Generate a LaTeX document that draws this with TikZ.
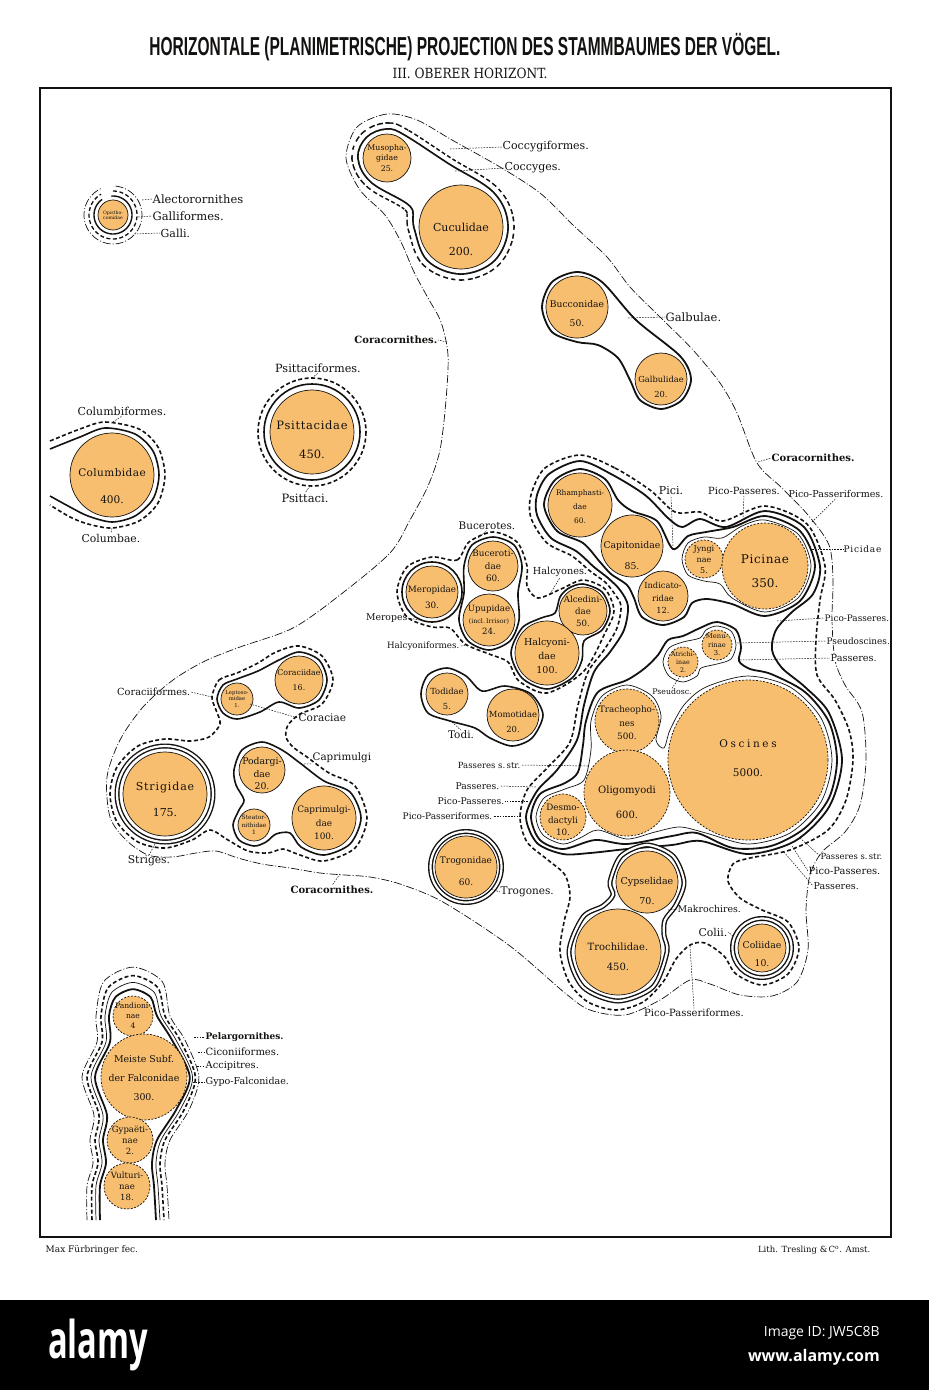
\documentclass[tikz,border=0pt]{standalone}
\usepackage{fontspec}
\setmainfont{DejaVu Serif}
\setsansfont{Liberation Sans}
\newfontfamily\wmfont{Open Sans}
\usepackage{graphicx}
\usepackage{tikz}
\usetikzlibrary{calc}

\definecolor{famfill}{RGB}{247,190,112}
\definecolor{ink}{RGB}{20,18,16}
\definecolor{paper}{RGB}{255,255,255}

\newcommand\fs[1]{\fontsize{#1}{#1}\selectfont}
% ring at a fixed distance outside a closed path
\newcommand\offring[4]{%
  \draw[#4, line width=2*#2+#3] #1;
  \draw[paper, line width=2*#2-#3] #1;
  \fill[paper] #1;}

\begin{document}
\begin{tikzpicture}[
  x=1pt, y=-1pt,
  famc/.style={circle, draw=ink, line width=0.7pt, fill=famfill, inner sep=0pt},
  famd/.style={famc, dash pattern=on 2pt off 1.5pt},
  famt/.style={align=center, inner sep=0pt, text=ink},
  grp/.style={draw=ink, line width=1.8pt},
  grpthin/.style={draw=ink, line width=0.7pt},
  grpdash/.style={draw=ink, line width=1.6pt, dash pattern=on 4pt off 2.5pt},
  grpdot/.style={draw=ink, line width=0.7pt, dash pattern=on 8pt off 2pt on 1pt off 2pt},
  grpdbl/.style={draw=ink, line width=1.4pt, double=paper, double distance=2.2pt},
  lead/.style={draw=ink, line width=0.5pt, dash pattern=on 1.6pt off 1.2pt},
  lab/.style={inner sep=0.5pt, text=ink, font=\fs{#1}},
  lab/.default=11,
  labb/.style={inner sep=0.5pt, text=ink, font=\fs{#1}\bfseries},
  labb/.default=10,
  ]
\useasboundingbox (0,0) rectangle (929,1390);
\fill[paper] (0,0) rectangle (929,1300);
\draw[ink, line width=1.3pt] (40,88) rectangle (891,1237);

% titles
\node[text=ink, inner sep=0pt] (title) at (465,47) {\resizebox{631pt}{\height}{\fs{26}\sffamily\bfseries HORIZONTALE (PLANIMETRISCHE) PROJECTION DES STAMMBAUMES DER VÖGEL.}};
\node[text=ink, inner sep=0pt] (subtitle) at (470,73) {\resizebox{155pt}{\height}{\fs{14}III. OBERER HORIZONT.}};

% family centres
\coordinate (opis) at (113,215);
\coordinate (musoph) at (387,158);
\coordinate (cucul) at (461,227);
\coordinate (buccon) at (577,307);
\coordinate (galbul) at (661,379);
\coordinate (psitt) at (312,432);
\coordinate (columb) at (112,475);
\coordinate (rhamph) at (580,505);
\coordinate (capit) at (632,546);
\coordinate (indic) at (663,596);
\coordinate (jyng) at (704,559);
\coordinate (picin) at (765,566);
\coordinate (merop) at (432,592);
\coordinate (bucer) at (493,566);
\coordinate (upup) at (489,620);
\coordinate (alced) at (583,611);
\coordinate (halcy) at (547,653);
\coordinate (todid) at (447,694);
\coordinate (momot) at (513,715);
\coordinate (atrich) at (683,662);
\coordinate (menur) at (717,645);
\coordinate (trache) at (627,721);
\coordinate (oligo) at (627,793);
\coordinate (desmo) at (563,817);
\coordinate (oscin) at (748,760);
\coordinate (trogon) at (466,867);
\coordinate (cypsel) at (647,882);
\coordinate (trochil) at (618,952);
\coordinate (coliid) at (762,948);
\coordinate (lepto) at (237,699);
\coordinate (coracii) at (299,680);
\coordinate (strig) at (165,794);
\coordinate (podarg) at (262,770);
\coordinate (steat) at (254,825);
\coordinate (caprim) at (324,818);
\coordinate (pandion) at (133,1016);
\coordinate (falcon) at (144,1077);
\coordinate (gypaet) at (130,1140);
\coordinate (vultur) at (127,1186);

% ---------- Coccyges / Coccygiformes
\def\coccpath{plot[smooth cycle, tension=0.6] coordinates {(387,134) (403,140) (446,168) (490,196) (503,227) (491,257) (461,269) (431,257) (419,227) (414,203) (375,179) (363,158) (370,141)}}
\offring{\coccpath}{11}{1.6}{grpdash}
\offring{\coccpath}{5}{1.8}{grp}

% ---------- Galbulae
\draw[grp] plot[smooth cycle] coordinates {(577,272) (602,282) (636,320) (680,356) (691,379) (682,400) (661,409) (640,400) (630,380) (618,358) (598,345) (577,342) (552,332) (542,307) (552,282)};

% ---------- Psittaci, Columbae, Galli
\draw[grp, line width=1.6pt] (psitt) circle (48);
\draw[grpdash] (psitt) circle (54);
\draw[grp, line width=1.6pt] plot[smooth] coordinates {(50,449) (80,437) (105,428) (135,434) (153,451) (159,475) (153,499) (135,516) (112,522) (88,516) (70,507) (50,496)};
\draw[grpdash] plot[smooth] coordinates {(50,441) (80,429) (105,422) (139,429) (158,447) (165,475) (158,503) (139,521) (112,528) (88,524) (70,517) (50,505)};
\draw[grp, line width=1.4pt] plot[domain=-95:235, samples=60] ({113+19*cos(\x)},{215+19*sin(\x)});
\draw[grpdash, line width=1.3pt] plot[domain=-90:240, samples=60] ({113+24*cos(\x)},{215+24*sin(\x)});
\draw[grpdot] plot[domain=-85:245, samples=60] ({113+29*cos(\x)},{215+29*sin(\x)});

% ---------- Coraciiformes
\draw[grp, line width=1.6pt] plot[smooth cycle] coordinates {(217,699) (223,685) (237,679) (258,671) (279,660) (299,652) (319,660) (327,680) (319,700) (299,708) (279,702) (260,712) (237,719) (223,713)};
\draw[grp, line width=1.6pt] plot[smooth cycle] coordinates {(262,742) (282,750) (300,763) (324,781) (350,792) (361,818) (350,844) (324,855) (301,847) (290,833) (276,834) (266,842) (254,846) (239,840) (233,825) (239,810) (244,800) (236,785) (234,770) (242,750)};
\draw[grpdbl] (strig) circle (48);
\draw[grpdash] plot[smooth cycle] coordinates {(212,697) (219,680) (237,673) (258,663) (276,652) (299,646) (322,656) (333,680) (322,704) (300,714) (288,725) (286,737) (293,747) (307,757) (329,773) (355,786) (367,818) (355,848) (324,861) (300,855) (283,849) (268,853) (248,851) (228,840) (210,830) (192,840) (165,848) (138,842) (117,822) (110,794) (117,767) (138,746) (165,739) (190,741) (209,737) (220,724) (216,710)};

% ---------- Halcyoniformes
\draw[grp, line width=1.6pt] (merop) circle (30);
\draw[grp, line width=1.6pt] plot[smooth cycle] coordinates {(493,537) (514,545) (522,566) (518,593) (519,620) (510,641) (489,650) (468,641) (459,620) (464,593) (464,566) (472,545)};
\draw[grp, line width=1.6pt] plot[smooth cycle] coordinates {(583,584) (602,592) (610,611) (602,630) (584,641) (582,660) (572,678) (547,689) (522,678) (511,653) (522,628) (541,618) (555,613) (560,597) (569,588)};
\draw[grpdash] plot[smooth cycle] coordinates {(432,557) (457,560) (469,542) (493,532) (517,542) (527,566) (527,586) (538,598) (561,589) (583,580) (605,589) (614,611) (605,633) (584,671) (547,693) (519,681) (508,662) (489,654) (465,644) (450,628) (432,627) (407,617) (397,592) (407,567)};
\draw[grp, line width=1.6pt] plot[smooth cycle] coordinates {(447,668) (466,676) (482,691) (505,686) (531,694) (543,715) (532,738) (512,746) (490,738) (475,728) (450,721) (428,713) (421,694) (428,675)};
\draw[grpdbl] (trogon) circle (35.5);

% ---------- Pico-Passeriformes
\draw[grpdash] plot[smooth cycle] coordinates {(580,455) (615,468) (650,490) (675,512) (700,512) (723,521) (765,506) (807,524) (825,566) (820,600) (816,640) (817,675) (835,700) (849,730) (853,760) (846,800) (828,830) (790,850) (750,858) (733,864) (728,881) (740,898) (762,910) (788,922) (799,948) (788,974) (762,985) (736,974) (724,956) (705,943) (690,945) (676,959) (663,982) (643,1002) (616,1010) (588,1002) (569,982) (560,952) (564,922) (570,897) (565,875) (548,860) (527,842) (520,817) (527,790) (548,767) (570,742) (578,705) (588,672) (604,650) (617,628) (621,606) (614,593) (605,582) (590,571) (572,556) (547,543) (531,518) (531,495) (545,468)};
% Pico-Passeres
\draw[grp] plot[smooth cycle] coordinates {(580,461) (611,474) (645,495) (668,518) (682,527) (700,519) (726,527) (765,511) (804,527) (820,566) (813,594) (792,612) (776,630) (772,650) (782,668) (805,687) (829,713) (842,760) (829,807) (795,841) (748,854) (701,841) (672,845) (627,849) (590,853) (563,854) (537,843) (526,817) (537,791) (557,770) (577,740) (584,705) (594,672) (610,652) (624,630) (628,606) (620,590) (608,578) (594,567) (576,551) (551,538) (537,515) (537,495) (549,474)};
% Pici, Picidae
\draw[grp] plot[smooth cycle] coordinates {(580,469) (605,479) (618,500) (632,511) (657,521) (673,549) (688,536) (706,532) (733,527) (765,516) (800,531) (815,566) (800,601) (765,616) (732,604) (707,599) (692,603) (684,617) (663,625) (642,617) (634,598) (627,585) (611,574) (600,562) (583,543) (557,531) (544,505) (555,480)};
\draw[grpthin] plot[smooth cycle] coordinates {(682,559) (688,543) (704,537) (722,538) (742,526) (765,520) (798,534) (811,566) (798,598) (765,612) (732,598) (720,584) (704,581) (688,575)};
% Passeres, Passeres s. str., Pseudoscines
\draw[grp] plot[smooth cycle] coordinates {(750,669) (771,674) (805,692) (829,722) (837,760) (829,798) (805,828) (771,846) (733,848) (697,833) (672,836) (627,844) (595,840) (563,849) (540,840) (531,817) (540,794) (565,783) (578,772) (583,745) (586,721) (598,692) (627,680) (645,668) (658,655) (668,640) (683,636) (700,628) (717,622) (736,630) (741,647) (739,661)};
\draw[grpthin] plot[smooth cycle] coordinates {(748,676) (790,687) (821,718) (832,760) (821,802) (790,833) (748,844) (706,833) (680,827) (655,832) (627,839) (598,830) (580,838) (563,844) (543,835) (536,817) (544,798) (565,789) (584,780) (591,750) (591,721) (602,696) (627,685) (652,696) (661,716) (656,740) (664,748) (670,730) (684,705) (706,687)};
\draw[grpthin] plot[smooth cycle] coordinates {(663,662) (669,648) (683,642) (700,638) (706,630) (717,626) (731,631) (736,645) (731,659) (717,664) (701,668) (697,676) (683,682) (669,676)};
% Makrochires, Colii
\draw[grpdbl] plot[smooth cycle] coordinates {(647,845) (673,856) (684,882) (676,905) (665,920) (664,935) (667,952) (653,987) (618,1001) (583,987) (569,952) (583,917) (603,906) (613,895) (610,882) (621,856)};
\draw[grpdbl] (coliid) circle (29.5);

% ---------- Pelargornithes
\foreach \gap/\sty in {4/grp, 8/grpthin, 12/grpdash, 17/grpdot}
  \draw[\sty] plot[smooth] coordinates {({104-\gap},1220) ({104-\gap},1186) ({110-\gap},1163) ({107-\gap},1140) ({111-\gap},1115) ({99-\gap},1077) ({114-\gap},1042) ({113-\gap},1016) ({119-0.9*\gap},{1002-1.2*\gap}) (133,{996-1.7*\gap}) ({147+0.9*\gap},{1002-1.2*\gap}) ({153+\gap},1016) ({168+\gap},1040) ({187+0.7*\gap},1077) ({172+\gap},1110) ({153+\gap},1140) ({148+\gap},1163) ({150+\gap},1186) ({152+\gap},1220)};

% ---------- Coracornithes
\draw[grpdot] plot[smooth cycle] coordinates {(387,114) (417,120) (452,140) (500,167) (540,193) (573,225) (607,257) (630,287) (660,317) (693,350) (720,383) (737,413) (757,463) (782,488) (808,515) (829,545) (833,580) (832,620) (835,660) (845,685) (862,712) (866,760) (860,805) (845,832) (822,852) (810,875) (806,910) (808,950) (797,982) (772,996) (740,995) (710,984) (690,980) (660,1000) (625,1015) (590,1010) (565,993) (510,946) (443,902) (400,884) (370,877) (345,875) (320,873) (290,868) (262,864) (238,858) (216,851) (196,853) (172,857) (148,855) (126,840) (110,817) (107,777) (120,740) (143,707) (173,680) (205,661) (240,647) (293,628) (340,595) (390,553) (410,520) (428,486) (440,450) (446,400) (448,355) (441,322) (428,298) (414,272) (401,242) (385,215) (360,190) (346,158) (357,127)};

% ---------- families
\node[famc, minimum size=30pt] (Opis) at (opis) {};
\node[famt, font=\fontsize{4.6}{5.4}\selectfont] (OpisT) at (opis) {Opistho-\\comidae};
\node[famc, minimum size=48pt] (Musoph) at (musoph) {};
\node[famt, font=\fontsize{7.8}{10.5}\selectfont] (MusophT) at (musoph) {Musopha-\\gidae\\25.};
\node[famc, minimum size=84pt] (Cucul) at (cucul) {};
\node[famt, font=\fontsize{11}{24}\selectfont] (CuculT) at ([yshift=-12pt]cucul) {Cuculidae\\200.};
\node[famc, minimum size=62pt] (Buccon) at (buccon) {};
\node[famt, font=\fontsize{9.2}{19}\selectfont] (BucconT) at ([yshift=-7pt]buccon) {Bucconidae\\50.};
\node[famc, minimum size=52pt] (Galbul) at (galbul) {};
\node[famt, font=\fontsize{8.3}{15}\selectfont] (GalbulT) at ([yshift=-8pt]galbul) {Galbulidae\\20.};
\node[famc, minimum size=84pt] (Psitt) at (psitt) {};
\node[famt, font=\fontsize{11.5}{29}\selectfont] (PsittT) at ([yshift=-8pt]psitt) {\addfontfeature{LetterSpace=6}Psittacidae\\450.};
\node[famc, minimum size=84pt] (Columb) at (columb) {};
\node[famt, font=\fontsize{10.5}{27}\selectfont] (ColumbT) at ([yshift=-11pt]columb) {\addfontfeature{LetterSpace=4}Columbidae\\400.};
\node[famc, minimum size=64pt] (Rhamph) at (rhamph) {};
\node[famt, font=\fontsize{7.5}{14}\selectfont] (RhamphT) at ([yshift=-2pt]rhamph) {Rhamphasti-\\dae\\60.};
\node[famc, minimum size=62pt] (Capit) at (capit) {};
\node[famt, font=\fontsize{9.3}{21}\selectfont] (CapitT) at ([yshift=-10pt]capit) {Capitonidae\\85.};
\node[famc, minimum size=50pt] (Indic) at (indic) {};
\node[famt, font=\fontsize{8.3}{12.5}\selectfont] (IndicT) at ([yshift=-2pt]indic) {Indicato-\\ridae\\12.};
\node[famd, minimum size=38pt] (Jyng) at (jyng) {};
\node[famt, font=\fontsize{8}{11}\selectfont] (JyngT) at ([yshift=-1pt]jyng) {Jyngi\\nae\\5.};
\node[famd, minimum size=86pt] (Picin) at (picin) {};
\node[famt, font=\fontsize{12}{24}\selectfont] (PicinT) at ([yshift=-5pt]picin) {\addfontfeature{LetterSpace=5}Picinae\\350.};
\node[famc, minimum size=52pt] (Merop) at (merop) {};
\node[famt, font=\fontsize{8.8}{16}\selectfont] (MeropT) at ([yshift=-5pt]merop) {Meropidae\\30.};
\node[famc, minimum size=50pt] (Bucer) at (bucer) {};
\node[famt, font=\fontsize{8.8}{12.5}\selectfont] (BucerT) at (bucer) {Buceroti-\\dae\\60.};
\node[famc, minimum size=52pt] (Upup) at (upup) {};
\node[famt, font=\fontsize{8.6}{11.5}\selectfont] (UpupT) at (upup) {Upupidae\\{\fontsize{6.3}{11.5}\selectfont(incl.\,Irrisor)}\\24.};
\node[famc, minimum size=48pt] (Alced) at (alced) {};
\node[famt, font=\fontsize{8.6}{12}\selectfont] (AlcedT) at (alced) {Alcedini-\\dae\\50.};
\node[famc, minimum size=64pt] (Halcy) at (halcy) {};
\node[famt, font=\fontsize{9.5}{14}\selectfont] (HalcyT) at ([yshift=-3pt]halcy) {Halcyoni-\\dae\\100.};
\node[famc, minimum size=42pt] (Todid) at (todid) {};
\node[famt, font=\fontsize{8.4}{15}\selectfont] (TodidT) at ([yshift=-5pt]todid) {Todidae\\5.};
\node[famc, minimum size=52pt] (Momot) at (momot) {};
\node[famt, font=\fontsize{8.4}{15}\selectfont] (MomotT) at ([yshift=-7pt]momot) {Momotidae\\20.};
\node[famd, minimum size=30pt] (Atrich) at (atrich) {};
\node[famt, font=\fontsize{6.3}{8}\selectfont] (AtrichT) at (atrich) {Atrichi-\\inae\\2.};
\node[famd, minimum size=30pt] (Menur) at (menur) {};
\node[famt, font=\fontsize{6.8}{8.5}\selectfont] (MenurT) at (menur) {Menu-\\rinae\\3.};
\node[famd, minimum size=64pt] (Trache) at (trache) {};
\node[famt, font=\fontsize{8.8}{13.5}\selectfont] (TracheT) at ([yshift=-2pt]trache) {Tracheopho-\\nes\\500.};
\node[famd, minimum size=86pt] (Oligo) at (oligo) {};
\node[famt, font=\fontsize{10}{25}\selectfont] (OligoT) at ([yshift=-9pt]oligo) {Oligomyodi\\600.};
\node[famd, minimum size=46pt] (Desmo) at (desmo) {};
\node[famt, font=\fontsize{8.8}{12.5}\selectfont] (DesmoT) at ([yshift=-3pt]desmo) {Desmo-\\dactyli\\10.};
\node[famd, minimum size=160pt] (Oscin) at (oscin) {};
\node[famt, font=\fontsize{10.5}{29}\selectfont] (OscinT) at ([yshift=2pt]oscin) {\addfontfeature{LetterSpace=25}Oscines\\5000.};
\node[famc, minimum size=62pt] (Trogon) at (trogon) {};
\node[famt, font=\fontsize{9}{22}\selectfont] (TrogonT) at ([yshift=-4pt]trogon) {Trogonidae\\60.};
\node[famc, minimum size=62pt] (Cypsel) at (cypsel) {};
\node[famt, font=\fontsize{9.5}{20}\selectfont] (CypselT) at ([yshift=-9pt]cypsel) {Cypselidae\\70.};
\node[famc, minimum size=86pt] (Trochil) at (trochil) {};
\node[famt, font=\fontsize{10}{20}\selectfont] (TrochilT) at ([yshift=-5pt]trochil) {Trochilidae.\\450.};
\node[famc, minimum size=48pt] (Coliid) at (coliid) {};
\node[famt, font=\fontsize{9.3}{18}\selectfont] (ColiidT) at ([yshift=-6pt]coliid) {Coliidae\\10.};
\node[famc, minimum size=32pt] (Lepto) at (lepto) {};
\node[famt, font=\fontsize{5.3}{6.5}\selectfont] (LeptoT) at (lepto) {Leptoso-\\midae\\1.};
\node[famc, minimum size=48pt] (Coracii) at (coracii) {};
\node[famt, font=\fontsize{7.9}{15}\selectfont] (CoraciiT) at (coracii) {Coraciidae\\16.};
\node[famc, minimum size=84pt] (Strig) at (strig) {};
\node[famt, font=\fontsize{11}{26}\selectfont] (StrigT) at ([yshift=-5pt]strig) {\addfontfeature{LetterSpace=8}Strigidae\\175.};
\node[famc, minimum size=46pt] (Podarg) at (podarg) {};
\node[famt, font=\fontsize{9.3}{12.5}\selectfont] (PodargT) at ([yshift=-4pt]podarg) {Podargi-\\dae\\20.};
\node[famc, minimum size=32pt] (Steat) at (steat) {};
\node[famt, font=\fontsize{6}{7.5}\selectfont] (SteatT) at (steat) {Steator-\\nithidae\\1};
\node[famc, minimum size=64pt] (Caprim) at (caprim) {};
\node[famt, font=\fontsize{8.9}{13.5}\selectfont] (CaprimT) at ([yshift=-5pt]caprim) {Caprimulgi-\\dae\\100.};
\node[famd, minimum size=40pt] (Pandion) at (pandion) {};
\node[famt, font=\fontsize{7.6}{10}\selectfont] (PandionT) at (pandion) {Pandioni-\\nae\\4};
\node[famd, minimum size=86pt] (Falcon) at (falcon) {};
\node[famt, font=\fontsize{9.4}{19}\selectfont] (FalconT) at ([yshift=-1pt]falcon) {Meiste Subf.\\der Falconidae\\300.};
\node[famd, minimum size=46pt] (Gypaet) at (gypaet) {};
\node[famt, font=\fontsize{8.5}{11}\selectfont] (GypaetT) at (gypaet) {Gypaëti-\\nae\\2.};
\node[famd, minimum size=46pt] (Vultur) at (vultur) {};
\node[famt, font=\fontsize{8.5}{11}\selectfont] (VulturT) at (vultur) {Vulturi-\\nae\\18.};

% ---------- group names
\node[lab=11.5, anchor=west] (alect) at (152,199) {Alectorornithes};
\node[lab=11.5, anchor=west] (gallif) at (152,216) {Galliformes.};
\node[lab=11, anchor=west] (galli) at (160,233) {Galli.};
\node[lab, anchor=west] (coccygif) at (502,147) {Coccygiformes.};
\node[lab, anchor=west] (coccyg) at (504,168) {Coccyges.};
\node[lab=11.5, anchor=west] (galbulae) at (665,317) {Galbulae.};
\node[labb, anchor=east] (coracA) at (438,340) {Coracornithes.};
\node[labb, anchor=west] (coracB) at (771,458) {Coracornithes.};
\node[labb] (coracC) at (332,890) {Coracornithes.};
\node[lab=11.3] (psittaciform) at (318,368) {Psittaciformes.};
\node[lab=11.5] (psittaci) at (305,498) {Psittaci.};
\node[lab] (columbif) at (122,411) {Columbiformes.};
\node[lab=10.8] (columbae) at (111,538) {Columbae.};
\node[lab=9.8, anchor=east] (coraciif) at (191,692) {Coraciiformes.};
\node[lab=10.5, anchor=west] (coraciae) at (298,718) {Coraciae};
\node[lab=10.3, anchor=west] (caprimulgi) at (312,758) {Caprimulgi};
\node[lab=10.7] (striges) at (149,861) {Striges.};
\node[lab=10.4] (bucerotes) at (487,526) {Bucerotes.};
\node[lab=9.7] (halcyones) at (560,572) {Halcyones.};
\node[lab=9.3, anchor=east] (meropes) at (408,618) {Meropes};
\node[lab=8.7, anchor=east] (halcyonif) at (460,646) {Halcyoniformes.};
\node[lab=10.5] (todi) at (461,735) {Todi.};
\node[lab=10.5, anchor=west] (trogones) at (500,892) {Trogones.};
\node[lab=9.4, anchor=west] (makroch) at (677,909) {Makrochires.};
\node[lab=10.8] (colii) at (713,932) {Colii.};
\node[lab=10] (picopassfB) at (694,1013) {Pico-Passeriformes.};
\node[lab] (pici) at (671,491) {Pici.};
\node[lab=9.9] (picopassA) at (744,491) {Pico-Passeres.};
\node[lab=9.5] (picopassfA) at (836,494) {Pico-Passeriformes.};
\node[lab=9, anchor=west] (picidae) at (843,549) {\addfontfeature{LetterSpace=8}Picidae};
\node[lab=8.9, anchor=west, fill=paper] (picopassB) at (824,618) {Pico-Passeres.};
\node[lab=8.9, anchor=west, fill=paper] (pseudosc) at (826,641) {Pseudoscines.};
\node[lab=9.7, anchor=west, fill=paper] (passB) at (830,658) {Passeres.};
\node[lab=7.8] (pseudoscS) at (672,692) {Pseudosc.};
\node[lab=8.5, anchor=east] (passsstrA) at (521,765) {Passeres s.\,str.};
\node[lab=9.2, anchor=east] (passA) at (500,786) {Passeres.};
\node[lab=9.2, anchor=east] (picopassC) at (505,801) {Pico-Passeres.};
\node[lab=9, anchor=east] (picopassfC) at (493,816) {Pico-Passeriformes.};
\node[lab=8.4, anchor=west] (passsstrB) at (820,856) {Passeres s.\,str.};
\node[lab=9.9, anchor=west] (picopassD) at (808,871) {Pico-Passeres.};
\node[lab=9.5, anchor=west] (passC) at (813,886) {Passeres.};
\node[labb=9, anchor=west] (pelarg) at (205,1037) {Pelargornithes.};
\node[lab=10, anchor=west] (ciconif) at (205,1052) {Ciconiiformes.};
\node[lab=9.8, anchor=west] (accip) at (205,1066) {Accipitres.};
\node[lab=9.5, anchor=west] (gypofalc) at (205,1082) {Gypo-Falconidae.};

% ---------- leader ends
\coordinate (alectE) at (142,200);
\coordinate (gallifE) at (138,217);
\coordinate (galliE) at (134,234);
\coordinate (coccygifE) at (450,149);
\coordinate (coccygE) at (455,171);
\coordinate (galbulaeE) at (628,318);
\coordinate (coracAE) at (447,342);
\coordinate (coracBE) at (758,462);
\coordinate (coracCE) at (340,874);
\coordinate (psittaciformE) at (312,378);
\coordinate (psittaciE) at (310,486);
\coordinate (columbifE) at (113,422);
\coordinate (columbaeE) at (112,528);
\coordinate (coraciifE) at (212,697);
\coordinate (coraciaeE) at (250,704);
\coordinate (caprimulgiE) at (304,764);
\coordinate (strigesE) at (155,844);
\coordinate (bucerotesE) at (478,538);
\coordinate (halcyonesE) at (550,594);
\coordinate (meropesE) at (420,620);
\coordinate (halcyonifE) at (468,645);
\coordinate (todiE) at (452,722);
\coordinate (trogonesE) at (491,889);
\coordinate (makrochE) at (668,910);
\coordinate (coliiE) at (733,936);
\coordinate (picopassfBE) at (690,946);
\coordinate (piciE) at (673,546);
\coordinate (picopassAE) at (743,517);
\coordinate (picopassfAE) at (812,522);
\coordinate (picidaeE) at (812,549);
\coordinate (picopassBE) at (777,621);
\coordinate (pseudoscE) at (737,643);
\coordinate (passBE) at (740,660);
\coordinate (pseudoscSE) at (679,678);
\coordinate (passsstrAE) at (588,766);
\coordinate (passAE) at (536,787);
\coordinate (picopassCE) at (528,801);
\coordinate (picopassfCE) at (521,816);
\coordinate (passsstrBE) at (800,838);
\coordinate (picopassDE) at (792,846);
\coordinate (passCE) at (784,852);
\coordinate (pelargE) at (194,1037);
\coordinate (ciconifE) at (198,1052);
\coordinate (accipE) at (197,1066);
\coordinate (gypofalcE) at (193,1082);

\draw[lead] (alectE) -- (alect.west);
\draw[lead] (gallifE) -- (gallif.west);
\draw[lead] (galliE) -- (galli.west);
\draw[lead] (coccygifE) -- (coccygif.west);
\draw[lead] (coccygE) -- (coccyg.west);
\draw[lead] (galbulaeE) -- (galbulae.west);
\draw[lead] (coracAE) -- (coracA.east);
\draw[lead] (coracBE) -- (coracB.west);
\draw[lead] (coracCE) -- (coracC.north);
\draw[lead] (psittaciformE) -- (psittaciform.south);
\draw[lead] (psittaciE) -- (psittaci.north);
\draw[lead] (columbifE) -- (columbif.south);
\draw[lead] (columbaeE) -- (columbae.north);
\draw[lead] (coraciifE) -- (coraciif.east);
\draw[lead] (coraciaeE) -- (coraciae.west);
\draw[lead] (caprimulgiE) -- (caprimulgi.south west);
\draw[lead] (strigesE) -- (striges.north);
\draw[lead] (bucerotesE) -- (bucerotes.south);
\draw[lead] (halcyonesE) -- (halcyones.south);
\draw[lead] (meropesE) -- (meropes.east);
\draw[lead] (halcyonifE) -- (halcyonif.east);
\draw[lead] (todiE) -- (todi.north);
\draw[lead] (trogonesE) -- (trogones.west);
\draw[lead] (makrochE) -- (makroch.west);
\draw[lead] (coliiE) -- (colii.east);
\draw[lead] (picopassfBE) -- (picopassfB.north);
\draw[lead] (piciE) -- (pici.south);
\draw[lead] (picopassAE) -- (picopassA.south);
\draw[lead] (picopassfAE) -- (picopassfA.south);
\draw[lead] (picidaeE) -- (picidae.west);
\draw[lead] (picopassBE) -- (picopassB.west);
\draw[lead] (pseudoscE) -- (pseudosc.west);
\draw[lead] (passBE) -- (passB.west);
\draw[lead] (pseudoscSE) -- (pseudoscS.north);
\draw[lead] (passsstrAE) -- (passsstrA.east);
\draw[lead] (passAE) -- (passA.east);
\draw[lead] (picopassCE) -- (picopassC.east);
\draw[lead] (picopassfCE) -- (picopassfC.east);
\draw[lead] (passsstrBE) -- (passsstrB.west);
\draw[lead] (picopassDE) -- (picopassD.west);
\draw[lead] (passCE) -- (passC.west);
\draw[lead] (pelargE) -- (pelarg.west);
\draw[lead] (ciconifE) -- (ciconif.west);
\draw[lead] (accipE) -- (accip.west);
\draw[lead] (gypofalcE) -- (gypofalc.west);

% ---------- footer
\node[lab=9, anchor=west] (maxf) at (45,1250) {Max Fürbringer fec.};
\node[lab=8.5, anchor=east] (lith) at (871,1250) {Lith. Tresling \&\,C\textsuperscript{o}. Amst.};

\fill[black] (0,1300) rectangle (929,1390);
\node[anchor=west, text=white, inner sep=0pt] (alamy) at (48,1345) {\resizebox{100pt}{\height}{\wmfont\bfseries\fs{52}alamy}};
\node[anchor=east, text=white, inner sep=0pt, font=\wmfont\fs{14}] (imgid) at (880,1333) {Image ID: JW5C8B};
\node[anchor=east, text=white, inner sep=0pt, font=\wmfont\bfseries\fs{16}] (alamyurl) at (880,1357) {www.alamy.com};
\end{tikzpicture}
\end{document}
